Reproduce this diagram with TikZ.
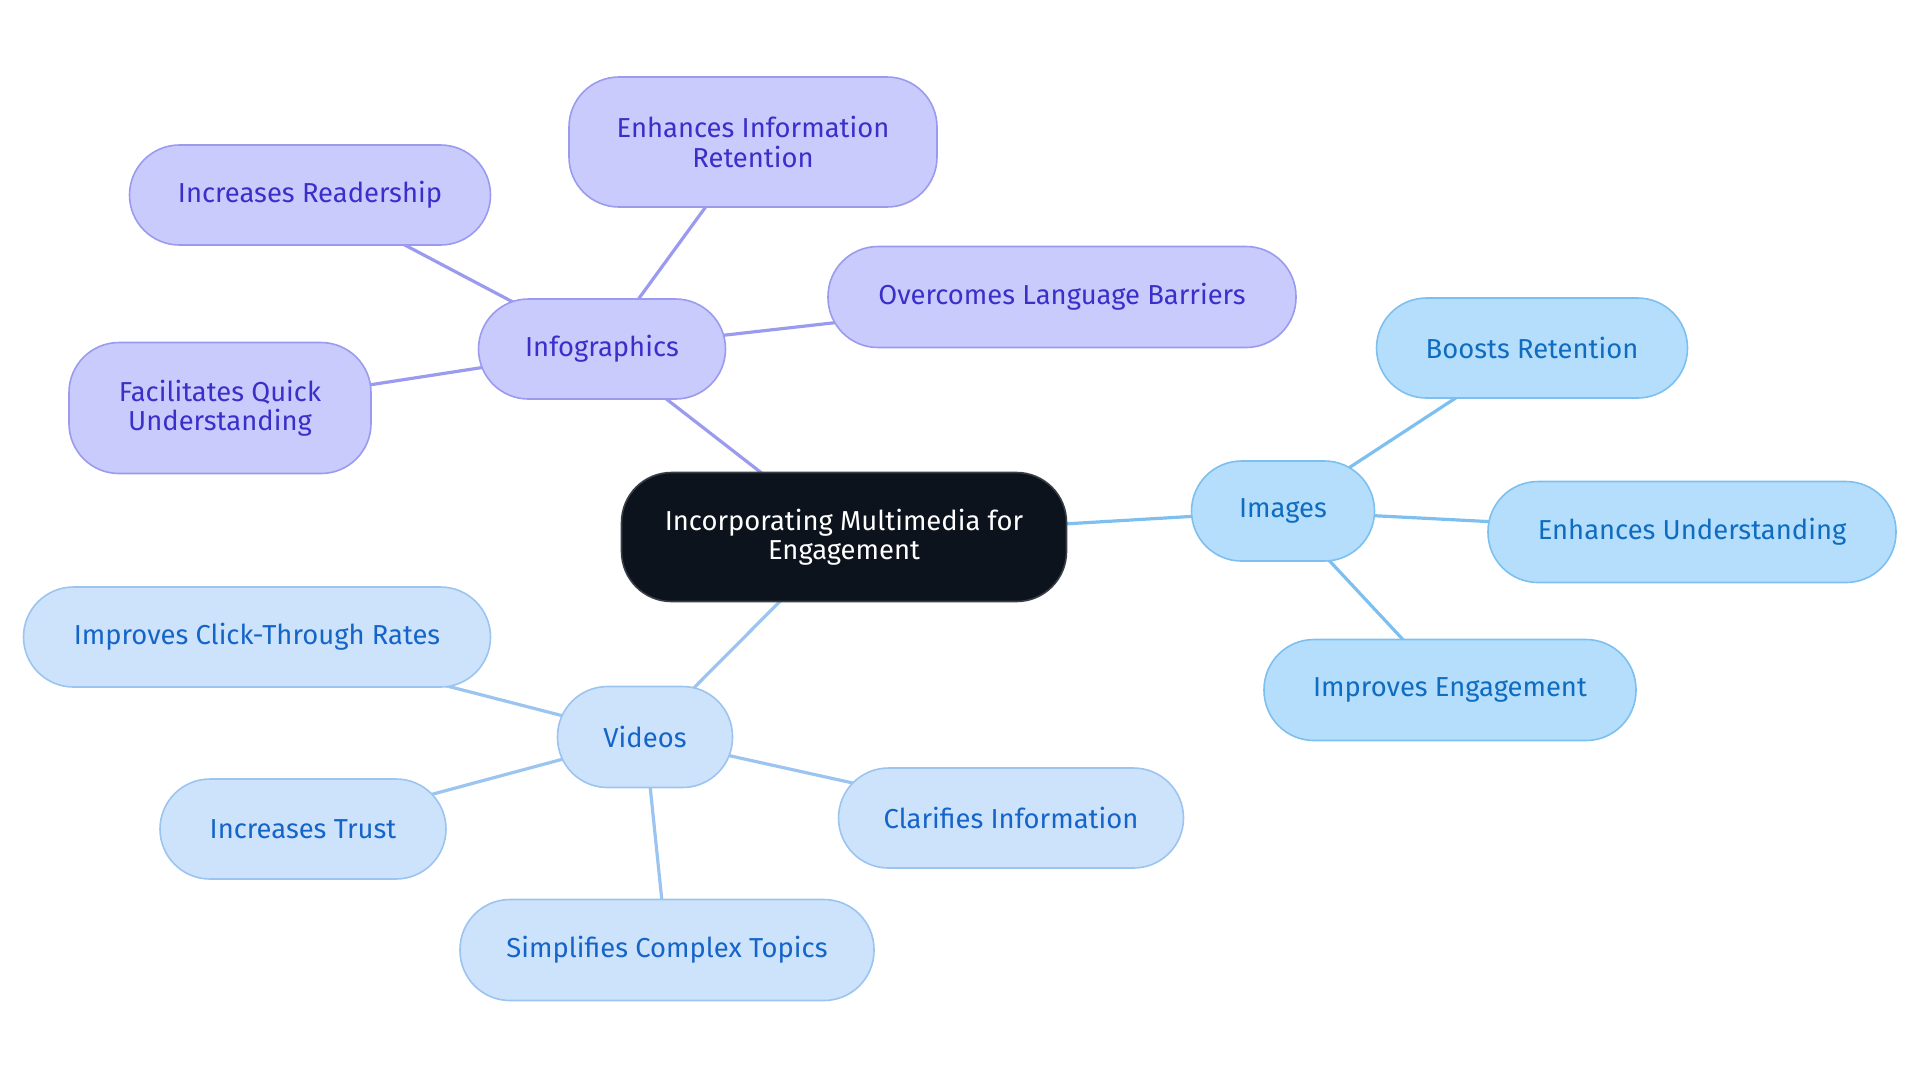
\documentclass[tikz,border=0pt]{standalone}
\usepackage{fontspec}
\setmainfont{Fira Sans}
\usetikzlibrary{backgrounds}
\definecolor{cfill}{HTML}{0D131C}
\definecolor{cdraw}{HTML}{3A3F47}
\definecolor{ifill}{HTML}{C9CBFD}
\definecolor{idraw}{HTML}{9A9BEF}
\definecolor{itext}{HTML}{3A2FC8}
\definecolor{mfill}{HTML}{B4DEFC}
\definecolor{mdraw}{HTML}{7DC0EF}
\definecolor{mtext}{HTML}{0F6CBF}
\definecolor{vfill}{HTML}{CDE3FB}
\definecolor{vdraw}{HTML}{9CC4F0}
\definecolor{vtext}{HTML}{1565C8}
\tikzset{
  box/.style={rounded corners=25pt, line width=0.8pt, align=center, inner sep=0pt,
    font=\fontsize{13.7}{14.7}\selectfont},
  cbox/.style={box, fill=cfill, draw=cdraw, text=white},
  ibox/.style={box, fill=ifill, draw=idraw, text=itext},
  mbox/.style={box, fill=mfill, draw=mdraw, text=mtext},
  vbox/.style={box, fill=vfill, draw=vdraw, text=vtext},
  iline/.style={draw=idraw, line width=1.6pt},
  mline/.style={draw=mdraw, line width=1.6pt},
  vline/.style={draw=vdraw, line width=1.6pt},
}
\begin{document}
\begin{tikzpicture}[x=0.5pt,y=-0.5pt]
\useasboundingbox (0,0) rectangle (1920,1083);
% center
\node[cbox, minimum width=222.5pt, minimum height=64.5pt] (c) at (844,537) {Incorporating Multimedia for\\Engagement};
% infographics
\node[ibox, minimum width=123.5pt, minimum height=50pt] (inf) at (602,349) {Infographics};
\node[ibox, minimum width=180.5pt, minimum height=50pt] (i1) at (310,195) {Increases Readership};
\node[ibox, minimum width=184pt, minimum height=65pt] (i2) at (753,142) {Enhances Information\\Retention};
\node[ibox, minimum width=234pt, minimum height=50.5pt] (i3) at (1062,297) {Overcomes Language Barriers};
\node[ibox, minimum width=151pt, minimum height=65.5pt] (i4) at (220,408) {Facilitates Quick\\Understanding};
% images
\node[mbox, minimum width=91.5pt, minimum height=50pt] (img) at (1283,511) {Images};
\node[mbox, minimum width=155.5pt, minimum height=50pt] (m1) at (1532,348) {Boosts Retention};
\node[mbox, minimum width=204pt, minimum height=50.5pt] (m2) at (1692,532) {Enhances Understanding};
\node[mbox, minimum width=186pt, minimum height=50.5pt] (m3) at (1450,690) {Improves Engagement};
% videos
\node[vbox, minimum width=87.5pt, minimum height=50.5pt] (vid) at (645,737) {Videos};
\node[vbox, minimum width=233.5pt, minimum height=50pt] (v1) at (257,637) {Improves Click-Through Rates};
\node[vbox, minimum width=143pt, minimum height=50pt] (v2) at (303,829) {Increases Trust};
\node[vbox, minimum width=207pt, minimum height=50.5pt] (v3) at (667,950) {Simplifies Complex Topics};
\node[vbox, minimum width=172.5pt, minimum height=50pt] (v4) at (1011,818) {Clarifies Information};
% edges
\begin{scope}[on background layer]
\draw[iline] (c.center) -- (inf.center);
\draw[iline] (inf.center) -- (i1.center);
\draw[iline] (inf.center) -- (i2.center);
\draw[iline] (inf.center) -- (i3.center);
\draw[iline] (inf.center) -- (i4.center);
\draw[mline] (c.center) -- (img.center);
\draw[mline] (img.center) -- (m1.center);
\draw[mline] (img.center) -- (m2.center);
\draw[mline] (img.center) -- (m3.center);
\draw[vline] (c.center) -- (vid.center);
\draw[vline] (vid.center) -- (v1.center);
\draw[vline] (vid.center) -- (v2.center);
\draw[vline] (vid.center) -- (v3.center);
\draw[vline] (vid.center) -- (v4.center);
\end{scope}
\end{tikzpicture}
\end{document}
